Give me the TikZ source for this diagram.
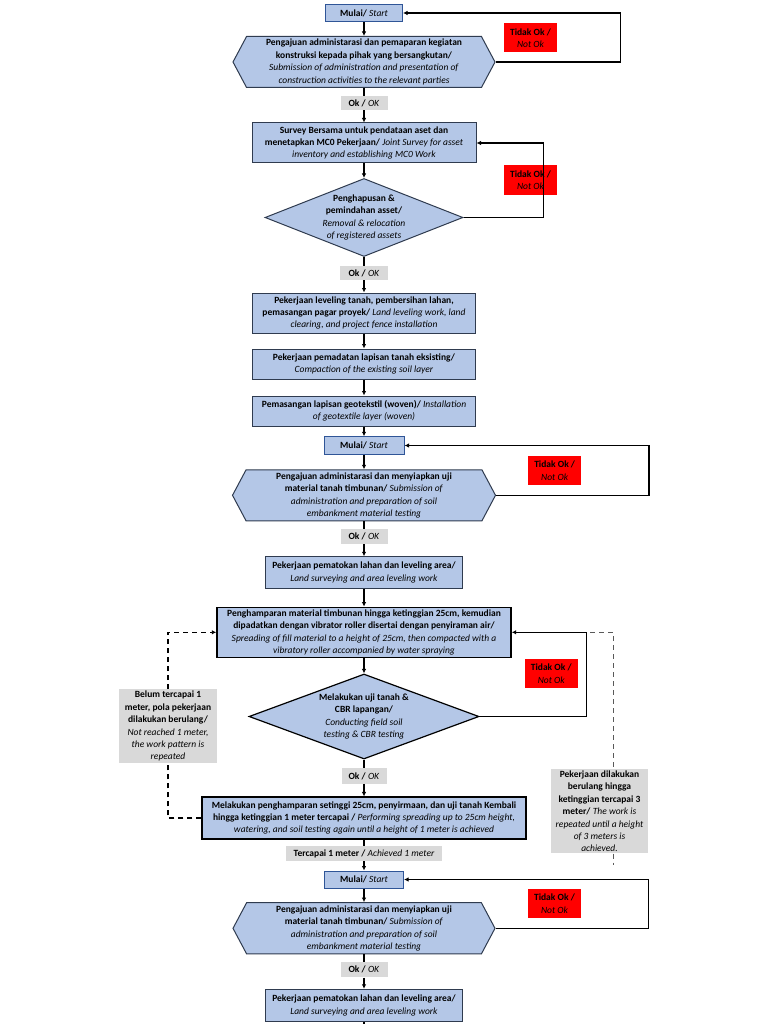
\documentclass[tikz,border=0pt]{standalone}
\usepackage{fontspec}
\setmainfont{Carlito}
\usepackage{tikz}
\usetikzlibrary{arrows.meta,shapes.geometric,shapes.symbols}
\definecolor{boxfill}{HTML}{B4C7E7}
\definecolor{boxline}{HTML}{2F3B4F}
\definecolor{startline}{HTML}{2F5597}
\definecolor{tagfill}{HTML}{D9D9D9}
\definecolor{nokfill}{HTML}{FF0000}
\definecolor{dashgray}{HTML}{595959}
\tikzset{
  every node/.style={font=\fontsize{9.5}{12.4}\selectfont, align=center, inner sep=1pt},
  proc/.style={draw=boxline, fill=boxfill, line width=1pt, rectangle},
  procb/.style={proc, draw=black, line width=1.4pt},
  start/.style={proc, draw=startline},
  hexa/.style={draw=boxline, fill=boxfill, line width=1pt, signal, signal to=west and east, signal pointer angle=124},
  deci/.style={draw=boxline, fill=boxfill, line width=1pt, diamond},
  tag/.style={fill=tagfill, rectangle},
  nok/.style={fill=nokfill, rectangle},
  flow/.style={draw=black, line width=1.5pt},
  arr/.style={flow, -{Latex[length=4.5pt,width=4.5pt]}},
  rep/.style={draw=black, line width=1.2pt, dash pattern=on 5pt off 4pt},
  repg/.style={draw=dashgray, line width=1pt, dash pattern=on 5pt off 4pt},
}
\begin{document}
\begin{tikzpicture}[x=1pt,y=-1pt]
  \useasboundingbox (0,0) rectangle (768,1024);

  % stage 1
  \node[start, minimum width=77pt, minimum height=17.5pt] (mulai1) at (364,13) {\textbf{Mulai/} \textit{Start}};
  \node[hexa, minimum width=262pt, minimum height=51pt, label={center:{\textbf{Pengajuan administarasi dan pemaparan kegiatan}\\\textbf{konstruksi kepada pihak yang bersangkutan/}\\\textit{Submission of administration and presentation of}\\\textit{construction activities to the relevant parties}}}] (hex1) at (364,62) {};
  \node[tag, minimum width=47pt, minimum height=14.5pt] (ok1) at (364,103) {\textbf{Ok /} \textit{OK}};
  \node[nok, minimum width=52.5pt, minimum height=29pt] (nok1) at (530.5,38) {\textbf{Tidak Ok /}\\\textit{Not Ok}};
  \node[proc, minimum width=224pt, minimum height=40pt] (survey) at (364,143) {\textbf{Survey Bersama untuk pendataan aset dan}\\\textbf{menetapkan MC0 Pekerjaan/} \textit{Joint Survey for asset}\\\textit{inventory and establishing MC0 Work}};
  \node[deci, minimum width=198pt, minimum height=78pt, label={center:{\textbf{Penghapusan \&}\\\textbf{pemindahan asset/}\\\textit{Removal \& relocation}\\\textit{of registered assets}}}] (dia1) at (364,217.5) {};
  \node[nok, minimum width=52.5pt, minimum height=29.5pt] (nok2) at (530.5,180) {\textbf{Tidak Ok /}\\\textit{Not Ok}};
  \node[tag, minimum width=48pt, minimum height=14.5pt] (ok2) at (364,273) {\textbf{Ok /} \textit{OK}};
  \node[proc, minimum width=223pt, minimum height=40pt] (leveling) at (364,313) {\textbf{Pekerjaan leveling tanah, pembersihan lahan,}\\\textbf{pemasangan pagar proyek/} \textit{Land leveling work, land}\\\textit{clearing, and project fence installation}};
  \node[proc, minimum width=223pt, minimum height=30pt] (pemadatan) at (364,364) {\textbf{Pekerjaan pemadatan lapisan tanah eksisting/}\\\textit{Compaction of the existing soil layer}};
  \node[proc, minimum width=223pt, minimum height=30pt] (geotekstil) at (364,411) {\textbf{Pemasangan lapisan geotekstil (woven)/} \textit{Installation}\\\textit{of geotextile layer (woven)}};

  % stage 2
  \node[start, minimum width=80pt, minimum height=17.5pt] (mulai2) at (364,445.5) {\textbf{Mulai/} \textit{Start}};
  \node[hexa, minimum width=263pt, minimum height=51pt, label={center:{\textbf{Pengajuan administarasi dan menyiapkan uji}\\\textbf{material tanah timbunan/} \textit{Submission of}\\\textit{administration and preparation of soil}\\\textit{embankment material testing}}}] (hex2) at (364,495.3) {};
  \node[nok, minimum width=52.5pt, minimum height=29pt] (nok3) at (554.7,470.5) {\textbf{Tidak Ok /}\\\textit{Not Ok}};
  \node[tag, minimum width=47pt, minimum height=14.7pt] (ok3) at (364,536.7) {\textbf{Ok /} \textit{OK}};
  \node[proc, minimum width=197.5pt, minimum height=31.5pt] (pematokan1) at (364,572.5) {\textbf{Pekerjaan pematokan lahan dan leveling area/}\\\textit{Land surveying and area leveling work}};
  \node[procb, minimum width=294pt, minimum height=50pt] (hampar) at (364,632.3) {\textbf{Penghamparan material timbunan hingga ketinggian 25cm, kemudian}\\\textbf{dipadatkan dengan vibrator roller disertai dengan penyiraman air/}\\\textit{Spreading of fill material to a height of 25cm, then compacted with a}\\\textit{vibratory roller accompanied by water spraying}};
  \node[deci, draw=black, line width=1.2pt, minimum width=230pt, minimum height=85pt, label={center:{\textbf{Melakukan uji tanah \&}\\\textbf{CBR lapangan/}\\\textit{Conducting field soil}\\\textit{testing \& CBR testing}}}] (dia2) at (364,716.5) {};
  \node[nok, minimum width=52.5pt, minimum height=28.5pt] (nok4) at (551.3,673.5) {\textbf{Tidak Ok /}\\\textit{Not Ok}};
  \node[tag, minimum width=97.7pt, minimum height=74pt] (repL) at (168,726.3) {\textbf{Belum tercapai 1}\\\textbf{meter, pola pekerjaan}\\\textbf{dilakukan berulang/}\\\textit{Not reached 1 meter,}\\\textit{the work pattern is}\\\textit{repeated}};
  \node[tag, minimum width=45pt, minimum height=15.5pt] (ok4) at (364,776) {\textbf{Ok /} \textit{OK}};
  \node[procb, minimum width=324pt, minimum height=41.7pt] (ulang) at (364,818) {\textbf{Melakukan penghamparan setinggi 25cm, penyirmaan, dan uji tanah Kembali}\\\textbf{hingga ketinggian 1 meter tercapai /} \textit{Performing spreading up to 25cm height,}\\\textit{watering, and soil testing again until a height of 1 meter is achieved}};
  \node[tag, minimum width=155.6pt, minimum height=15pt] (capai) at (364,853.5) {\textbf{Tercapai 1 meter /} \textit{Achieved 1 meter}};
  \node[tag, minimum width=97pt, minimum height=84pt] (repR) at (599.5,811.3) {\textbf{Pekerjaan dilakukan}\\\textbf{berulang hingga}\\\textbf{ketinggian tercapai 3}\\\textbf{meter/} \textit{The work is}\\\textit{repeated until a height}\\\textit{of 3 meters is}\\\textit{achieved.}};

  % stage 3
  \node[start, minimum width=79pt, minimum height=17pt] (mulai3) at (364,879.5) {\textbf{Mulai/} \textit{Start}};
  \node[hexa, minimum width=262pt, minimum height=51.3pt, label={center:{\textbf{Pengajuan administarasi dan menyiapkan uji}\\\textbf{material tanah timbunan/} \textit{Submission of}\\\textit{administration and preparation of soil}\\\textit{embankment material testing}}}] (hex3) at (364,928.3) {};
  \node[nok, minimum width=52.5pt, minimum height=29pt] (nok5) at (554.5,903.8) {\textbf{Tidak Ok /}\\\textit{Not Ok}};
  \node[tag, minimum width=47pt, minimum height=15.6pt] (ok5) at (364,969.5) {\textbf{Ok /} \textit{OK}};
  \node[proc, minimum width=197.5pt, minimum height=32.4pt] (pematokan2) at (364,1005.5) {\textbf{Pekerjaan pematokan lahan dan leveling area/}\\\textit{Land surveying and area leveling work}};
  \coordinate (bot) at (364,1024);

  % main flow
  \draw[arr] (mulai1) -- (hex1);
  \draw[flow] (hex1) -- (ok1);
  \draw[arr] (ok1) -- (survey);
  \draw[arr] (survey) -- (dia1);
  \draw[flow] (dia1) -- (ok2);
  \draw[arr] (ok2) -- (leveling);
  \draw[arr] (leveling) -- (pemadatan);
  \draw[arr] (pemadatan) -- (geotekstil);
  \draw[arr] (geotekstil) -- (mulai2);
  \draw[arr] (mulai2) -- (hex2);
  \draw[flow] (hex2) -- (ok3);
  \draw[arr] (ok3) -- (pematokan1);
  \draw[arr] (pematokan1) -- (hampar);
  \draw[arr] (hampar) -- (dia2);
  \draw[flow] (dia2) -- (ok4);
  \draw[arr] (ok4) -- (ulang);
  \draw[flow] (ulang) -- (capai);
  \draw[arr] (capai) -- (mulai3);
  \draw[arr] (mulai3) -- (hex3);
  \draw[flow] (hex3) -- (ok5);
  \draw[arr] (ok5) -- (pematokan2);
  \draw[flow] (pematokan2) -- (bot);

  % not ok loops
  \draw[arr] (hex1.east) -- ++(125,0) |- (mulai1.east);
  \draw[arr] (dia1.east) -- ++(80,0) |- (survey.east);
  \draw[arr] (hex2.east) -- ++(153,0) |- (mulai2.east);
  \draw[arr] (dia2.east) -- ++(107,0) |- (hampar.east);
  \draw[arr] (hex3.east) -- ++(153,0) |- (mulai3.east);

  % repeat paths
  \draw[rep] (ulang.west) -| (repL.south);
  \draw[rep, -{Latex[length=4.5pt,width=4.5pt]}] (repL.north) |- (hampar.west);
  \coordinate (rA) at (590,632.3);
  \coordinate (rB) at (613.3,865);
  \draw[repg] (rA) -| (rB |- repR.north);
  \draw[repg] (repR.south -| rB) -- (rB);
\end{tikzpicture}
\end{document}
